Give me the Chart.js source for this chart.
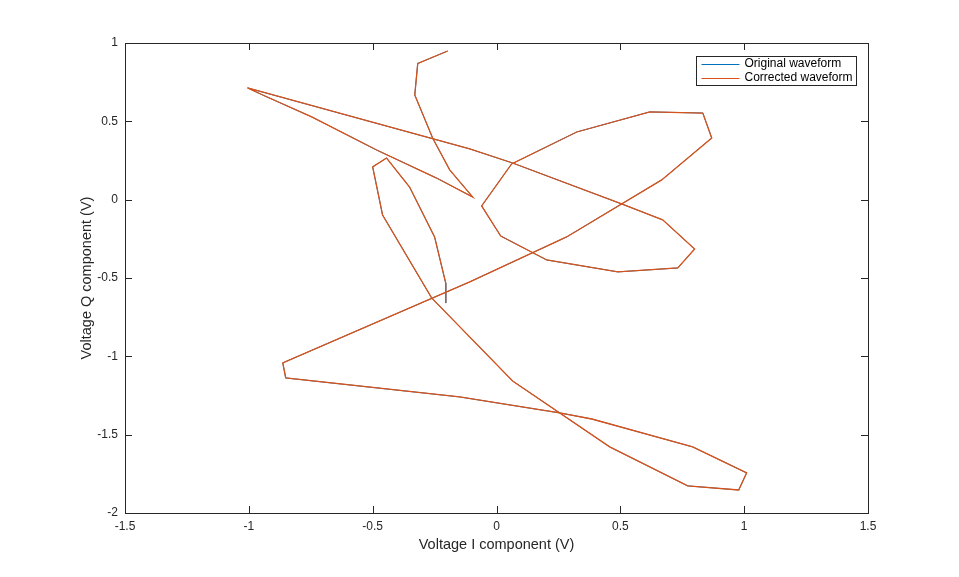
<!DOCTYPE html>
<html>
<head>
<meta charset="utf-8">
<script src="https://cdn.jsdelivr.net/npm/chart.js@4/dist/chart.umd.min.js"></script>
<style>
    html, body { margin: 0; padding: 0; background: #ffffff; }
    #wrap { width: 959px; height: 577px; }
</style>
</head>
<body>
<div id="wrap"><canvas id="iq-chart" width="959" height="577"></canvas></div>
<script>
// I/Q trajectory, in drawing order
const iVals = [-0.197, -0.318, -0.330, -0.258, -0.189, -0.096, -0.242, -0.484, -0.746, -0.944,
    -1.005, -0.108, 0.065, 0.505, 0.671, 0.800, 0.732, 0.490, 0.203, 0.017,
    -0.060, 0.061, 0.324, 0.619, 0.833, 0.869, 0.667, 0.283, -0.108, -0.863,
    -0.851, -0.149, 0.255, 0.385, 0.792, 1.010, 0.978, 0.772, 0.457, 0.065,
    -0.262, -0.460, -0.500, -0.444, -0.351, -0.250, -0.205, -0.205];
const qVals = [0.949, 0.869, 0.668, 0.394, 0.190, 0.017, 0.138, 0.317, 0.528, 0.668,
    0.713, 0.324, 0.234, -0.027, -0.129, -0.315, -0.436, -0.461, -0.385, -0.232,
    -0.040, 0.228, 0.432, 0.560, 0.553, 0.394, 0.126, -0.238, -0.525, -1.042,
    -1.138, -1.259, -1.361, -1.400, -1.578, -1.744, -1.853, -1.827, -1.578, -1.157,
    -0.627, -0.098, 0.209, 0.266, 0.081, -0.238, -0.532, -0.660];

const seriesLabels = ['Original waveform', 'Corrected waveform'];
const seriesColors = ['#0072BD', '#D95319'];
const xTicks = [-1.5, -1, -0.5, 0, 0.5, 1, 1.5];
const yTicks = [-2, -1.5, -1, -0.5, 0, 0.5, 1];

const points = iVals.map((v, i) => ({ x: v, y: qVals[i] }));
const axisColor = '#262626';
const fontFamily = '"Liberation Sans", Arial, sans-serif';

// MATLAB-style box with inward ticks on all four sides
const boxPlugin = {
    id: 'matlabBox',
    beforeDatasetsDraw(chart) {
        const { ctx, chartArea: a, scales } = chart;
        const tl = 7;
        ctx.save();
        ctx.strokeStyle = axisColor;
        ctx.lineWidth = 1;
        ctx.beginPath();
        xTicks.forEach(v => {
            const px = Math.round(scales.x.getPixelForValue(v)) + 0.5;
            ctx.moveTo(px, a.bottom); ctx.lineTo(px, a.bottom - tl);
            ctx.moveTo(px, a.top); ctx.lineTo(px, a.top + tl);
        });
        yTicks.forEach(v => {
            const py = Math.round(scales.y.getPixelForValue(v)) + 0.5;
            ctx.moveTo(a.left, py); ctx.lineTo(a.left + tl, py);
            ctx.moveTo(a.right, py); ctx.lineTo(a.right - tl, py);
        });
        ctx.stroke();
        ctx.strokeRect(Math.round(a.left) + 0.5, Math.round(a.top) + 0.5,
            Math.round(a.right - a.left), Math.round(a.bottom - a.top));
        ctx.restore();
    },
    afterDraw(chart) {
        // legend box in the upper right corner
        const { ctx, chartArea: a } = chart;
        const bx = a.right - 171.5, by = a.top + 13.5, bw = 160, bh = 29;
        ctx.save();
        ctx.fillStyle = '#ffffff';
        ctx.fillRect(bx, by, bw, bh);
        ctx.strokeStyle = axisColor;
        ctx.lineWidth = 1;
        ctx.strokeRect(bx, by, bw, bh);
        ctx.font = '12px ' + fontFamily;
        ctx.textBaseline = 'middle';
        chart.data.datasets.forEach((ds, i) => {
            const ly = by + 7 + i * 14;
            ctx.strokeStyle = ds.borderColor;
            ctx.lineWidth = 1;
            ctx.beginPath();
            ctx.moveTo(bx + 5, Math.round(ly) + 0.5);
            ctx.lineTo(bx + 43, Math.round(ly) + 0.5);
            ctx.stroke();
            ctx.fillStyle = '#000000';
            ctx.fillText(ds.label, bx + 48, ly + 0.5);
        });
        ctx.restore();
    }
};

new Chart(document.getElementById('iq-chart').getContext('2d'), {
    type: 'scatter',
    data: {
        datasets: seriesLabels.map((lab, i) => ({
            label: lab,
            data: points,
            showLine: true,
            borderColor: seriesColors[i],
            backgroundColor: seriesColors[i],
            borderWidth: i === 0 ? 1 : 1.3,
            pointRadius: 0,
            pointHoverRadius: 0,
            tension: 0,
            order: i === 0 ? 1 : 0
        }))
    },
    options: {
        responsive: false,
        animation: false,
        events: [],
        layout: { padding: { left: 0, top: 43, right: 91, bottom: 0 } },
        plugins: {
            legend: { display: false },
            tooltip: { enabled: false }
        },
        scales: {
            x: {
                type: 'linear',
                min: -1.5,
                max: 1.5,
                afterFit: s => { s.height = 64; },
                afterBuildTicks: s => { s.ticks = xTicks.map(v => ({ value: v })); },
                grid: { display: false, drawTicks: false },
                border: { display: false },
                ticks: {
                    color: axisColor,
                    padding: 6,
                    maxRotation: 0,
                    callback: v => String(v),
                    font: { family: fontFamily, size: 12 }
                },
                title: {
                    display: true,
                    text: 'Voltage I component (V)',
                    color: axisColor,
                    font: { family: fontFamily, size: 14.5 },
                    padding: { top: 0, bottom: 23 }
                }
            },
            y: {
                type: 'linear',
                min: -2,
                max: 1,
                afterFit: s => { s.width = 125; },
                afterBuildTicks: s => { s.ticks = yTicks.map(v => ({ value: v })); },
                grid: { display: false, drawTicks: false },
                border: { display: false },
                ticks: {
                    color: axisColor,
                    padding: 7,
                    callback: v => String(v),
                    font: { family: fontFamily, size: 12 }
                },
                title: {
                    display: true,
                    text: 'Voltage Q component (V)',
                    color: axisColor,
                    font: { family: fontFamily, size: 14.5 },
                    padding: { top: 78, bottom: 0 }
                }
            }
        }
    },
    plugins: [boxPlugin]
});
</script>
</body>
</html>
